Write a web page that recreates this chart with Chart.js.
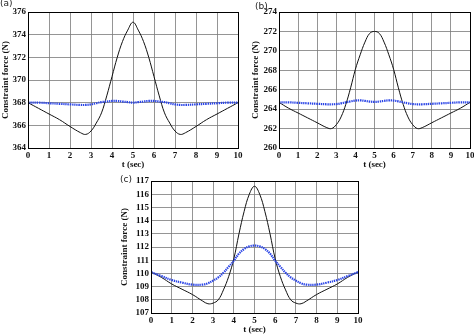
<!DOCTYPE html>
<html>
<head>
<meta charset="utf-8">
<script src="https://cdn.jsdelivr.net/npm/chart.js@4"></script>
<style>
html,body{margin:0;padding:0;background:#fff;}
#wrap{position:relative;width:474px;height:336px;overflow:hidden;}
#wrap canvas{position:absolute;left:0;top:0;}
.tag{position:absolute;font:9px "DejaVu Sans",sans-serif;color:#222;}
</style>
</head>
<body>
<div id="wrap">
<canvas id="chartA" width="474" height="336"></canvas>
<canvas id="chartB" width="474" height="336"></canvas>
<canvas id="chartC" width="474" height="336"></canvas>
<div class="tag" style="left:0;top:-2px">(a)</div>
<div class="tag" style="left:255px;top:1px">(b)</div>
<div class="tag" style="left:120px;top:174px">(c)</div>
</div>
<script>
// time samples (sec), shared by all three panels
const tSec=[0,0.5,1,1.5,2,2.5,2.75,3,3.25,3.5,3.75,4,4.25,4.5,4.75,5,5.25,5.5,5.75,6,6.25,6.5,6.75,7,7.25,7.5,8,8.5,9,9.5,10];

// (a)
const aSolid=[368.0,367.5,367.0,366.5,365.9,365.35,365.2,365.5,366.2,367.1,368.6,370.3,372.0,373.4,374.4,375.1,374.4,373.4,372.0,370.3,368.6,367.1,366.2,365.5,365.2,365.35,365.9,366.5,367.0,367.5,368.0];
const aDotted=[368.0,368.0,367.95,367.9,367.85,367.8,367.8,367.85,367.95,368.05,368.1,368.15,368.15,368.1,368.05,368.0,368.05,368.1,368.15,368.15,368.1,368.05,367.95,367.85,367.8,367.8,367.85,367.9,367.95,368.0,368.0];
const aTicks=[364,376,2];

// (b)
const bSolid=[264.7,264.1,263.6,263.1,262.6,262.1,262.0,262.4,263.2,264.5,266.2,268.1,269.6,270.9,271.8,272.0,271.8,270.9,269.6,268.1,266.2,264.5,263.2,262.4,262.0,262.1,262.6,263.1,263.6,264.1,264.7];
const bDotted=[264.7,264.7,264.65,264.6,264.55,264.5,264.5,264.52,264.6,264.7,264.8,264.88,264.9,264.85,264.78,264.75,264.78,264.85,264.9,264.88,264.8,264.7,264.6,264.52,264.5,264.5,264.55,264.6,264.65,264.7,264.7];
const bTicks=[260,274,2];

// (c)
const cSolid=[110.1,109.7,109.2,108.8,108.4,107.9,107.7,107.75,108.0,108.75,109.75,111.1,113.0,114.7,116.0,116.6,116.0,114.7,113.0,111.1,109.75,108.75,108.0,107.75,107.7,107.9,108.4,108.8,109.2,109.7,110.1];
const cDotted=[110.1,109.8,109.5,109.3,109.15,109.15,109.25,109.45,109.7,110.05,110.5,110.95,111.5,111.85,112.05,112.1,112.05,111.85,111.5,110.95,110.5,110.05,109.7,109.45,109.25,109.15,109.15,109.3,109.5,109.8,110.1];
const cTicks=[107,117,1];

const serifBold={family:"'Liberation Serif','DejaVu Serif',serif",size:9,weight:"bold"};

// box around the plot area (top/right edges too)
const frame={
  id:"frame",
  afterDraw(chart){
    const a=chart.chartArea,ctx=chart.ctx;
    ctx.save();
    ctx.strokeStyle="#000";
    ctx.lineWidth=1;
    ctx.strokeRect(Math.round(a.left)+0.5,Math.round(a.top)+0.5,Math.round(a.right-a.left),Math.round(a.bottom-a.top));
    ctx.restore();
  }
};

function pts(ys){return tSec.map((t,i)=>({x:t,y:ys[i]}));}

function makePanel(id,solid,dotted,ticks,pad,yWidth){
  return new Chart(document.getElementById(id),{
    type:"line",
    data:{datasets:[
      {data:pts(dotted),borderColor:"#2a44e6",borderWidth:2.2,borderDash:[1.4,0.8],pointRadius:0,tension:0.4},
      {data:pts(solid),borderColor:"#111",borderWidth:1,pointRadius:0,tension:0.4}
    ]},
    options:{
      responsive:false,animation:false,
      layout:{padding:pad},
      plugins:{legend:{display:false},tooltip:{enabled:false}},
      scales:{
        x:{type:"linear",min:0,max:10,
          ticks:{stepSize:1,autoSkip:false,font:serifBold,color:"#111",padding:2},
          grid:{color:"#7a7a7a",lineWidth:0.8,drawTicks:false},
          border:{color:"#000"},
          title:{display:true,text:"t (sec)",font:serifBold,color:"#111",padding:{top:0,bottom:0}},
          afterFit(s){s.height=22;s.paddingLeft=0;s.paddingRight=0;}
        },
        y:{min:ticks[0],max:ticks[1],
          ticks:{stepSize:ticks[2],autoSkip:false,font:serifBold,color:"#111",padding:2},
          grid:{color:"#7a7a7a",lineWidth:0.8,drawTicks:false},
          border:{color:"#000"},
          title:{display:true,text:"Constraint force (N)",font:serifBold,color:"#111",padding:{top:0,bottom:0}},
          afterFit(s){s.width=yWidth;s.paddingTop=0;s.paddingBottom=0;}
        }
      }
    },
    plugins:[frame]
  });
}

makePanel("chartA",aSolid,aDotted,aTicks,{left:0,right:236,top:12,bottom:166},28);
makePanel("chartB",bSolid,bDotted,bTicks,{left:250,right:4,top:12,bottom:166},29);
makePanel("chartC",cSolid,cDotted,cTicks,{left:119,right:116,top:181,bottom:1},32);
</script>
</body>
</html>
